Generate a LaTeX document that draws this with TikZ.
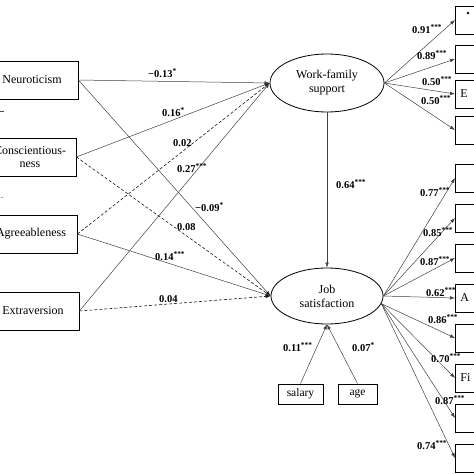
\documentclass[tikz,border=0pt]{standalone}
\usepackage{fontspec}
\setmainfont{Liberation Serif}
\usetikzlibrary{arrows.meta,shapes.geometric}

\tikzset{
  trait/.style={draw,line width=0.8pt,minimum width=92pt,minimum height=38pt,
    inner sep=2pt,align=center,font=\fontsize{12}{13}\selectfont},
  latent/.style={draw,ellipse,line width=0.8pt,minimum width=114pt,minimum height=58pt,
    inner sep=0pt,align=center,font=\fontsize{12}{14}\selectfont},
  indbox/.style={draw,line width=0.8pt,anchor=west,minimum width=70pt,minimum height=28pt,
    text width=60pt,inner sep=4pt,align=left,font=\fontsize{12}{14}\selectfont},
  ctrl/.style={draw,line width=0.8pt,minimum height=20pt,inner sep=2pt,
    font=\fontsize{11.5}{13}\selectfont},
  arr/.style={draw=black!75,line width=0.5pt,-{Latex[length=5pt,width=3.6pt]}},
  nsarr/.style={arr,draw=black!90,line width=0.6pt,dash pattern=on 3pt off 2pt},
  coef/.style={anchor=base west,inner sep=0pt,font=\fontsize{10.5}{12}\bfseries\selectfont}
}

\begin{document}
\begin{tikzpicture}[x=1pt,y=-1pt]
        \clip (0,0) rectangle (474,474);
        % personality traits
        \node[trait] (neu) at (32,80) {Neuroticism};
        \node[trait] (con) at (30,157) {Conscientious-\\ness};
        \node[trait] (agr) at (31,234) {Agreeableness};
        \node[trait] (ext) at (33,311) {Extraversion};
        \draw[black!70] (0,111) -- (4,111);
        \draw[black!40] (1,197) -- (3,197);
        % latent variables
        \node[latent] (wfs) at (327,83) {Work-family\\support};
        \node[latent,minimum width=112pt,minimum height=56pt] (js) at (327,296) {Job\\satisfaction};
        % control variables
        \node[ctrl,minimum width=45pt] (sal) at (300.5,394) {salary};
        \node[ctrl,minimum width=39pt] (age) at (357.5,394) {age};
        % indicators of work-family support
        \node[indbox] (w1) at (455,20) {};
        \node[indbox] (w2) at (455,59) {};
        \node[indbox] (w3) at (455,94) {E};
        \node[indbox] (w4) at (455,130) {};
        \fill (468,13) circle (1.3pt);
        % indicators of job satisfaction
        \node[indbox] (j1) at (455,178) {};
        \node[indbox] (j2) at (455,218) {};
        \node[indbox] (j3) at (455,258) {};
        \node[indbox] (j4) at (455,298) {A};
        \node[indbox] (j5) at (455,338) {};
        \node[indbox] (j6) at (455,378) {Fi};
        \node[indbox] (j7) at (455,418) {};
        \node[indbox] (j8) at (455,458) {};
        % paths to work-family support
        \draw[arr] (neu.east) -- (wfs.west);
        \draw[arr] (con.east) -- (wfs.west);
        \draw[nsarr] (agr.east) -- (wfs.west);
        \draw[arr] (ext.east) -- (wfs.west);
        % paths to job satisfaction
        \draw[arr] (neu.east) -- (js.west);
        \draw[nsarr] (con.east) -- (js.west);
        \draw[arr] (agr.east) -- (js.west);
        \draw[nsarr] (ext.east) -- (js.west);
        \draw[arr] (wfs.south) -- (js.north);
        \draw[arr] (sal.north) -- (js.south);
        \draw[arr] (age.north) -- (js.south);
        % loadings
        \foreach \i in {1,...,4} \draw[arr] (wfs.east) -- (w\i.west);
        \foreach \i in {1,...,4} \draw[arr] (js.east) -- (j\i.west);
        \foreach \i in {5,...,8} \draw[arr] (js.-8) -- (j\i.west);
        % coefficients
        \node[coef] (c1) at (148,77) {−0.13\textsuperscript{*}};
        \node[coef] (c2) at (162,116) {0.16\textsuperscript{*}};
        \node[coef] (c3) at (173,146) {0.02};
        \node[coef] (c4) at (177,172) {0.27\textsuperscript{***}};
        \node[coef] (c5) at (195,211) {−0.09\textsuperscript{*}};
        \node[coef] (c6) at (177,230) {0.08};
        \node[coef] (c7) at (155,260) {0.14\textsuperscript{***}};
        \node[coef] (c8) at (159,302) {0.04};
        \node[coef] (c9) at (336,188) {0.64\textsuperscript{***}};
        \node[coef] (c10) at (283,351) {0.11\textsuperscript{***}};
        \node[coef] (c11) at (352,351) {0.07\textsuperscript{*}};
        \node[coef] (lw1) at (412,33) {0.91\textsuperscript{***}};
        \node[coef] (lw2) at (417,59) {0.89\textsuperscript{***}};
        \node[coef] (lw3) at (422,85) {0.50\textsuperscript{***}};
        \node[coef] (lw4) at (421,104) {0.50\textsuperscript{***}};
        \node[coef] (lj1) at (420,196) {0.77\textsuperscript{***}};
        \node[coef] (lj2) at (423,236) {0.85\textsuperscript{***}};
        \node[coef] (lj3) at (420,265) {0.87\textsuperscript{***}};
        \node[coef] (lj4) at (426,296) {0.62\textsuperscript{***}};
        \node[coef] (lj5) at (428,323) {0.86\textsuperscript{***}};
        \node[coef] (lj6) at (431,362) {0.70\textsuperscript{***}};
        \node[coef] (lj7) at (435,404) {0.87\textsuperscript{***}};
        \node[coef] (lj8) at (417,449) {0.74\textsuperscript{***}};
\end{tikzpicture}
\end{document}
